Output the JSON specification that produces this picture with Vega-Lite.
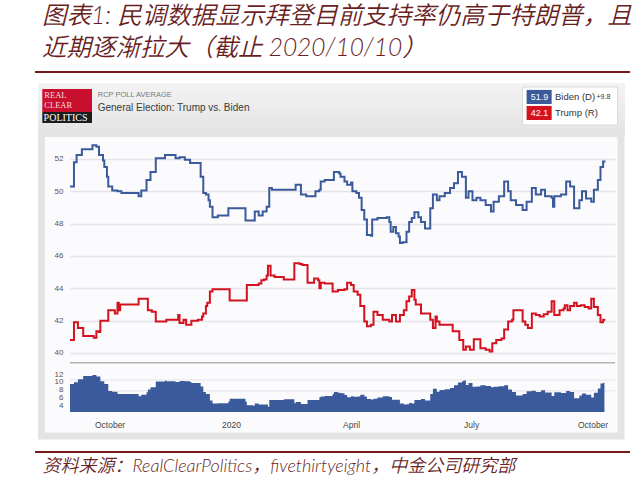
{
  "$schema": "https://vega.github.io/schema/vega-lite/v6.json",
  "width": 572,
  "height": 296,
  "autosize": "none",
  "padding": {"left": 45, "top": 137, "right": 23, "bottom": 48},
  "background": "white",
  "config": {
    "view": {"fill": "#fbfbfd", "stroke": null},
    "axis": {"labelFont": "Liberation Sans"}
  },
  "title": {
    "text": ["图表1: 民调数据显示拜登目前支持率仍高于特朗普，且", "近期逐渐拉大（截止 2020/10/10）"],
    "anchor": "start",
    "frame": "group",
    "orient": "top",
    "offset": 9,
    "dx": -3,
    "font": "Lato, Noto Sans CJK SC",
    "fontSize": 24.5,
    "fontStyle": "italic",
    "fontWeight": 350,
    "color": "#6a1f1f",
    "lineHeight": 32
  },
  "datasets": {
    "polls": [
      {"date": "2019-09-01", "candidate": "Biden", "share": 50.3},
      {"date": "2019-09-04", "candidate": "Biden", "share": 51.8},
      {"date": "2019-09-06", "candidate": "Biden", "share": 52.25},
      {"date": "2019-09-10", "candidate": "Biden", "share": 52.6},
      {"date": "2019-09-18", "candidate": "Biden", "share": 52.85},
      {"date": "2019-09-21", "candidate": "Biden", "share": 52.75},
      {"date": "2019-09-23", "candidate": "Biden", "share": 52.25},
      {"date": "2019-09-26", "candidate": "Biden", "share": 51.9},
      {"date": "2019-09-27", "candidate": "Biden", "share": 51.5},
      {"date": "2019-09-29", "candidate": "Biden", "share": 50.9},
      {"date": "2019-09-30", "candidate": "Biden", "share": 50.3},
      {"date": "2019-10-03", "candidate": "Biden", "share": 50.05},
      {"date": "2019-10-07", "candidate": "Biden", "share": 50.0},
      {"date": "2019-10-10", "candidate": "Biden", "share": 49.9},
      {"date": "2019-10-23", "candidate": "Biden", "share": 49.7},
      {"date": "2019-10-25", "candidate": "Biden", "share": 50.05},
      {"date": "2019-10-29", "candidate": "Biden", "share": 50.7},
      {"date": "2019-11-01", "candidate": "Biden", "share": 51.2},
      {"date": "2019-11-05", "candidate": "Biden", "share": 52.05},
      {"date": "2019-11-12", "candidate": "Biden", "share": 52.25},
      {"date": "2019-11-20", "candidate": "Biden", "share": 52.05},
      {"date": "2019-11-23", "candidate": "Biden", "share": 52.1},
      {"date": "2019-11-27", "candidate": "Biden", "share": 51.95},
      {"date": "2019-12-01", "candidate": "Biden", "share": 51.75},
      {"date": "2019-12-09", "candidate": "Biden", "share": 50.9},
      {"date": "2019-12-11", "candidate": "Biden", "share": 49.9},
      {"date": "2019-12-13", "candidate": "Biden", "share": 49.8},
      {"date": "2019-12-15", "candidate": "Biden", "share": 49.45},
      {"date": "2019-12-16", "candidate": "Biden", "share": 49.05},
      {"date": "2019-12-18", "candidate": "Biden", "share": 48.4},
      {"date": "2019-12-22", "candidate": "Biden", "share": 48.5},
      {"date": "2019-12-30", "candidate": "Biden", "share": 48.95},
      {"date": "2020-01-12", "candidate": "Biden", "share": 48.2},
      {"date": "2020-01-19", "candidate": "Biden", "share": 48.75},
      {"date": "2020-01-22", "candidate": "Biden", "share": 48.5},
      {"date": "2020-01-25", "candidate": "Biden", "share": 48.75},
      {"date": "2020-01-28", "candidate": "Biden", "share": 49.05},
      {"date": "2020-01-30", "candidate": "Biden", "share": 50.2},
      {"date": "2020-02-01", "candidate": "Biden", "share": 50.1},
      {"date": "2020-02-19", "candidate": "Biden", "share": 50.4},
      {"date": "2020-02-23", "candidate": "Biden", "share": 49.8},
      {"date": "2020-02-27", "candidate": "Biden", "share": 49.7},
      {"date": "2020-03-05", "candidate": "Biden", "share": 50.0},
      {"date": "2020-03-08", "candidate": "Biden", "share": 50.1},
      {"date": "2020-03-09", "candidate": "Biden", "share": 50.6},
      {"date": "2020-03-12", "candidate": "Biden", "share": 50.7},
      {"date": "2020-03-19", "candidate": "Biden", "share": 51.2},
      {"date": "2020-03-23", "candidate": "Biden", "share": 51.1},
      {"date": "2020-03-24", "candidate": "Biden", "share": 50.9},
      {"date": "2020-03-27", "candidate": "Biden", "share": 50.6},
      {"date": "2020-03-29", "candidate": "Biden", "share": 50.4},
      {"date": "2020-04-01", "candidate": "Biden", "share": 50.55},
      {"date": "2020-04-02", "candidate": "Biden", "share": 50.0},
      {"date": "2020-04-05", "candidate": "Biden", "share": 49.9},
      {"date": "2020-04-07", "candidate": "Biden", "share": 49.6},
      {"date": "2020-04-09", "candidate": "Biden", "share": 48.85},
      {"date": "2020-04-11", "candidate": "Biden", "share": 48.25},
      {"date": "2020-04-13", "candidate": "Biden", "share": 47.3},
      {"date": "2020-04-16", "candidate": "Biden", "share": 47.25},
      {"date": "2020-04-17", "candidate": "Biden", "share": 48.25},
      {"date": "2020-04-21", "candidate": "Biden", "share": 48.35},
      {"date": "2020-04-28", "candidate": "Biden", "share": 48.4},
      {"date": "2020-04-30", "candidate": "Biden", "share": 48.1},
      {"date": "2020-05-01", "candidate": "Biden", "share": 47.5},
      {"date": "2020-05-03", "candidate": "Biden", "share": 47.8},
      {"date": "2020-05-05", "candidate": "Biden", "share": 47.4},
      {"date": "2020-05-07", "candidate": "Biden", "share": 47.2},
      {"date": "2020-05-08", "candidate": "Biden", "share": 46.8},
      {"date": "2020-05-10", "candidate": "Biden", "share": 46.85},
      {"date": "2020-05-13", "candidate": "Biden", "share": 47.5},
      {"date": "2020-05-15", "candidate": "Biden", "share": 48.1},
      {"date": "2020-05-17", "candidate": "Biden", "share": 48.35},
      {"date": "2020-05-19", "candidate": "Biden", "share": 48.7},
      {"date": "2020-05-22", "candidate": "Biden", "share": 48.4},
      {"date": "2020-05-24", "candidate": "Biden", "share": 48.1},
      {"date": "2020-05-27", "candidate": "Biden", "share": 47.7},
      {"date": "2020-05-31", "candidate": "Biden", "share": 48.95},
      {"date": "2020-06-02", "candidate": "Biden", "share": 49.8},
      {"date": "2020-06-05", "candidate": "Biden", "share": 49.45},
      {"date": "2020-06-07", "candidate": "Biden", "share": 49.7},
      {"date": "2020-06-11", "candidate": "Biden", "share": 49.9},
      {"date": "2020-06-15", "candidate": "Biden", "share": 50.2},
      {"date": "2020-06-18", "candidate": "Biden", "share": 50.5},
      {"date": "2020-06-21", "candidate": "Biden", "share": 51.2},
      {"date": "2020-06-24", "candidate": "Biden", "share": 50.9},
      {"date": "2020-06-27", "candidate": "Biden", "share": 49.6},
      {"date": "2020-06-29", "candidate": "Biden", "share": 50.0},
      {"date": "2020-07-02", "candidate": "Biden", "share": 49.45},
      {"date": "2020-07-05", "candidate": "Biden", "share": 49.6},
      {"date": "2020-07-08", "candidate": "Biden", "share": 49.45},
      {"date": "2020-07-12", "candidate": "Biden", "share": 49.15},
      {"date": "2020-07-16", "candidate": "Biden", "share": 48.75},
      {"date": "2020-07-18", "candidate": "Biden", "share": 49.35},
      {"date": "2020-07-22", "candidate": "Biden", "share": 49.7},
      {"date": "2020-07-26", "candidate": "Biden", "share": 50.6},
      {"date": "2020-07-29", "candidate": "Biden", "share": 50.0},
      {"date": "2020-07-31", "candidate": "Biden", "share": 49.45},
      {"date": "2020-08-04", "candidate": "Biden", "share": 49.15},
      {"date": "2020-08-09", "candidate": "Biden", "share": 48.85},
      {"date": "2020-08-12", "candidate": "Biden", "share": 49.35},
      {"date": "2020-08-16", "candidate": "Biden", "share": 50.2},
      {"date": "2020-08-19", "candidate": "Biden", "share": 49.8},
      {"date": "2020-08-23", "candidate": "Biden", "share": 50.1},
      {"date": "2020-08-26", "candidate": "Biden", "share": 49.7},
      {"date": "2020-08-31", "candidate": "Biden", "share": 49.6},
      {"date": "2020-09-01", "candidate": "Biden", "share": 49.05},
      {"date": "2020-09-02", "candidate": "Biden", "share": 49.7},
      {"date": "2020-09-07", "candidate": "Biden", "share": 49.8},
      {"date": "2020-09-11", "candidate": "Biden", "share": 50.6},
      {"date": "2020-09-14", "candidate": "Biden", "share": 50.3},
      {"date": "2020-09-17", "candidate": "Biden", "share": 48.95},
      {"date": "2020-09-21", "candidate": "Biden", "share": 49.45},
      {"date": "2020-09-23", "candidate": "Biden", "share": 50.0},
      {"date": "2020-09-26", "candidate": "Biden", "share": 49.55},
      {"date": "2020-09-30", "candidate": "Biden", "share": 49.35},
      {"date": "2020-10-02", "candidate": "Biden", "share": 50.1},
      {"date": "2020-10-05", "candidate": "Biden", "share": 50.7},
      {"date": "2020-10-07", "candidate": "Biden", "share": 51.5},
      {"date": "2020-10-09", "candidate": "Biden", "share": 51.85},
      {"date": "2020-10-10", "candidate": "Biden", "share": 51.9},
      {"date": "2019-09-01", "candidate": "Trump", "share": 40.8},
      {"date": "2019-09-04", "candidate": "Trump", "share": 41.9},
      {"date": "2019-09-07", "candidate": "Trump", "share": 41.55},
      {"date": "2019-09-11", "candidate": "Trump", "share": 41.05},
      {"date": "2019-09-19", "candidate": "Trump", "share": 40.95},
      {"date": "2019-09-21", "candidate": "Trump", "share": 41.35},
      {"date": "2019-09-23", "candidate": "Trump", "share": 41.3},
      {"date": "2019-09-24", "candidate": "Trump", "share": 42.0},
      {"date": "2019-09-30", "candidate": "Trump", "share": 42.65},
      {"date": "2019-10-05", "candidate": "Trump", "share": 42.45},
      {"date": "2019-10-07", "candidate": "Trump", "share": 43.1},
      {"date": "2019-10-08", "candidate": "Trump", "share": 42.65},
      {"date": "2019-10-09", "candidate": "Trump", "share": 43.0},
      {"date": "2019-10-23", "candidate": "Trump", "share": 43.35},
      {"date": "2019-10-30", "candidate": "Trump", "share": 42.65},
      {"date": "2019-11-02", "candidate": "Trump", "share": 42.55},
      {"date": "2019-11-05", "candidate": "Trump", "share": 41.95},
      {"date": "2019-11-13", "candidate": "Trump", "share": 42.05},
      {"date": "2019-11-22", "candidate": "Trump", "share": 42.35},
      {"date": "2019-11-23", "candidate": "Trump", "share": 41.85},
      {"date": "2019-11-26", "candidate": "Trump", "share": 42.05},
      {"date": "2019-11-28", "candidate": "Trump", "share": 41.75},
      {"date": "2019-12-02", "candidate": "Trump", "share": 42.0},
      {"date": "2019-12-07", "candidate": "Trump", "share": 42.05},
      {"date": "2019-12-10", "candidate": "Trump", "share": 42.25},
      {"date": "2019-12-11", "candidate": "Trump", "share": 42.45},
      {"date": "2019-12-13", "candidate": "Trump", "share": 42.9},
      {"date": "2019-12-14", "candidate": "Trump", "share": 43.1},
      {"date": "2019-12-16", "candidate": "Trump", "share": 43.8},
      {"date": "2019-12-18", "candidate": "Trump", "share": 43.95},
      {"date": "2019-12-31", "candidate": "Trump", "share": 43.25},
      {"date": "2020-01-13", "candidate": "Trump", "share": 44.2},
      {"date": "2020-01-22", "candidate": "Trump", "share": 44.3},
      {"date": "2020-01-24", "candidate": "Trump", "share": 44.5},
      {"date": "2020-01-26", "candidate": "Trump", "share": 44.55},
      {"date": "2020-01-28", "candidate": "Trump", "share": 44.8},
      {"date": "2020-01-29", "candidate": "Trump", "share": 45.4},
      {"date": "2020-01-31", "candidate": "Trump", "share": 44.8},
      {"date": "2020-02-03", "candidate": "Trump", "share": 44.7},
      {"date": "2020-02-10", "candidate": "Trump", "share": 44.55},
      {"date": "2020-02-18", "candidate": "Trump", "share": 45.55},
      {"date": "2020-02-22", "candidate": "Trump", "share": 45.5},
      {"date": "2020-02-24", "candidate": "Trump", "share": 45.45},
      {"date": "2020-02-28", "candidate": "Trump", "share": 44.35},
      {"date": "2020-03-04", "candidate": "Trump", "share": 44.6},
      {"date": "2020-03-07", "candidate": "Trump", "share": 44.5},
      {"date": "2020-03-08", "candidate": "Trump", "share": 44.0},
      {"date": "2020-03-09", "candidate": "Trump", "share": 44.35},
      {"date": "2020-03-12", "candidate": "Trump", "share": 44.3},
      {"date": "2020-03-18", "candidate": "Trump", "share": 43.8},
      {"date": "2020-03-22", "candidate": "Trump", "share": 43.9},
      {"date": "2020-03-27", "candidate": "Trump", "share": 43.95},
      {"date": "2020-03-29", "candidate": "Trump", "share": 44.35},
      {"date": "2020-04-01", "candidate": "Trump", "share": 44.2},
      {"date": "2020-04-03", "candidate": "Trump", "share": 43.8},
      {"date": "2020-04-06", "candidate": "Trump", "share": 43.6},
      {"date": "2020-04-08", "candidate": "Trump", "share": 42.9},
      {"date": "2020-04-11", "candidate": "Trump", "share": 41.95},
      {"date": "2020-04-13", "candidate": "Trump", "share": 41.65},
      {"date": "2020-04-16", "candidate": "Trump", "share": 41.75},
      {"date": "2020-04-18", "candidate": "Trump", "share": 42.55},
      {"date": "2020-04-21", "candidate": "Trump", "share": 42.35},
      {"date": "2020-04-25", "candidate": "Trump", "share": 42.05},
      {"date": "2020-04-30", "candidate": "Trump", "share": 41.95},
      {"date": "2020-05-02", "candidate": "Trump", "share": 42.35},
      {"date": "2020-05-05", "candidate": "Trump", "share": 41.95},
      {"date": "2020-05-08", "candidate": "Trump", "share": 42.35},
      {"date": "2020-05-11", "candidate": "Trump", "share": 42.65},
      {"date": "2020-05-13", "candidate": "Trump", "share": 43.2},
      {"date": "2020-05-15", "candidate": "Trump", "share": 43.5},
      {"date": "2020-05-17", "candidate": "Trump", "share": 43.9},
      {"date": "2020-05-19", "candidate": "Trump", "share": 43.3},
      {"date": "2020-05-20", "candidate": "Trump", "share": 43.0},
      {"date": "2020-05-24", "candidate": "Trump", "share": 42.45},
      {"date": "2020-05-31", "candidate": "Trump", "share": 42.05},
      {"date": "2020-06-02", "candidate": "Trump", "share": 41.55},
      {"date": "2020-06-04", "candidate": "Trump", "share": 42.25},
      {"date": "2020-06-05", "candidate": "Trump", "share": 41.95},
      {"date": "2020-06-07", "candidate": "Trump", "share": 41.75},
      {"date": "2020-06-17", "candidate": "Trump", "share": 41.35},
      {"date": "2020-06-22", "candidate": "Trump", "share": 40.8},
      {"date": "2020-06-25", "candidate": "Trump", "share": 40.2},
      {"date": "2020-06-27", "candidate": "Trump", "share": 40.4},
      {"date": "2020-06-30", "candidate": "Trump", "share": 40.2},
      {"date": "2020-07-03", "candidate": "Trump", "share": 40.85},
      {"date": "2020-07-08", "candidate": "Trump", "share": 40.3},
      {"date": "2020-07-12", "candidate": "Trump", "share": 40.2},
      {"date": "2020-07-15", "candidate": "Trump", "share": 40.1},
      {"date": "2020-07-17", "candidate": "Trump", "share": 40.6},
      {"date": "2020-07-20", "candidate": "Trump", "share": 40.8},
      {"date": "2020-07-24", "candidate": "Trump", "share": 40.9},
      {"date": "2020-07-26", "candidate": "Trump", "share": 41.45},
      {"date": "2020-07-29", "candidate": "Trump", "share": 41.95},
      {"date": "2020-08-01", "candidate": "Trump", "share": 42.05},
      {"date": "2020-08-02", "candidate": "Trump", "share": 42.65},
      {"date": "2020-08-09", "candidate": "Trump", "share": 41.95},
      {"date": "2020-08-11", "candidate": "Trump", "share": 41.75},
      {"date": "2020-08-13", "candidate": "Trump", "share": 41.55},
      {"date": "2020-08-16", "candidate": "Trump", "share": 42.45},
      {"date": "2020-08-19", "candidate": "Trump", "share": 42.35},
      {"date": "2020-08-22", "candidate": "Trump", "share": 42.25},
      {"date": "2020-08-25", "candidate": "Trump", "share": 42.4},
      {"date": "2020-08-28", "candidate": "Trump", "share": 42.55},
      {"date": "2020-08-31", "candidate": "Trump", "share": 43.2},
      {"date": "2020-09-02", "candidate": "Trump", "share": 42.35},
      {"date": "2020-09-06", "candidate": "Trump", "share": 42.65},
      {"date": "2020-09-09", "candidate": "Trump", "share": 42.75},
      {"date": "2020-09-10", "candidate": "Trump", "share": 42.95},
      {"date": "2020-09-12", "candidate": "Trump", "share": 42.65},
      {"date": "2020-09-14", "candidate": "Trump", "share": 42.9},
      {"date": "2020-09-17", "candidate": "Trump", "share": 43.1},
      {"date": "2020-09-19", "candidate": "Trump", "share": 42.9},
      {"date": "2020-09-22", "candidate": "Trump", "share": 42.95},
      {"date": "2020-09-25", "candidate": "Trump", "share": 42.85},
      {"date": "2020-09-28", "candidate": "Trump", "share": 42.75},
      {"date": "2020-09-30", "candidate": "Trump", "share": 43.35},
      {"date": "2020-10-02", "candidate": "Trump", "share": 42.85},
      {"date": "2020-10-05", "candidate": "Trump", "share": 42.35},
      {"date": "2020-10-07", "candidate": "Trump", "share": 41.9},
      {"date": "2020-10-09", "candidate": "Trump", "share": 42.05},
      {"date": "2020-10-10", "candidate": "Trump", "share": 42.1}
    ],
    "spread": [
      {"date": "2019-09-01", "spread": 9.5},
      {"date": "2019-09-04", "spread": 9.9},
      {"date": "2019-09-07", "spread": 10.7},
      {"date": "2019-09-11", "spread": 11.55},
      {"date": "2019-09-18", "spread": 11.8},
      {"date": "2019-09-21", "spread": 11.4},
      {"date": "2019-09-24", "spread": 10.2},
      {"date": "2019-09-27", "spread": 9.45},
      {"date": "2019-09-30", "spread": 7.65},
      {"date": "2019-10-03", "spread": 7.5},
      {"date": "2019-10-07", "spread": 6.9},
      {"date": "2019-10-23", "spread": 6.35},
      {"date": "2019-10-25", "spread": 6.7},
      {"date": "2019-10-29", "spread": 7.35},
      {"date": "2019-10-30", "spread": 8.05},
      {"date": "2019-11-01", "spread": 8.65},
      {"date": "2019-11-05", "spread": 10.1},
      {"date": "2019-11-12", "spread": 10.35},
      {"date": "2019-11-13", "spread": 10.2},
      {"date": "2019-11-20", "spread": 10.0},
      {"date": "2019-11-23", "spread": 10.25},
      {"date": "2019-11-27", "spread": 10.2},
      {"date": "2019-12-01", "spread": 10.0},
      {"date": "2019-12-02", "spread": 9.75},
      {"date": "2019-12-07", "spread": 9.7},
      {"date": "2019-12-09", "spread": 8.8},
      {"date": "2019-12-11", "spread": 7.45},
      {"date": "2019-12-13", "spread": 6.9},
      {"date": "2019-12-16", "spread": 5.25},
      {"date": "2019-12-18", "spread": 4.45},
      {"date": "2019-12-22", "spread": 4.55},
      {"date": "2019-12-30", "spread": 5.0},
      {"date": "2019-12-31", "spread": 5.7},
      {"date": "2020-01-12", "spread": 4.95},
      {"date": "2020-01-13", "spread": 4.0},
      {"date": "2020-01-18", "spread": 3.9},
      {"date": "2020-01-19", "spread": 4.45},
      {"date": "2020-01-22", "spread": 4.2},
      {"date": "2020-01-28", "spread": 4.25},
      {"date": "2020-01-29", "spread": 3.65},
      {"date": "2020-01-30", "spread": 5.4},
      {"date": "2020-02-10", "spread": 5.55},
      {"date": "2020-02-18", "spread": 4.55},
      {"date": "2020-02-19", "spread": 4.85},
      {"date": "2020-02-23", "spread": 4.35},
      {"date": "2020-02-28", "spread": 5.35},
      {"date": "2020-03-04", "spread": 5.4},
      {"date": "2020-03-08", "spread": 6.1},
      {"date": "2020-03-09", "spread": 6.25},
      {"date": "2020-03-12", "spread": 6.4},
      {"date": "2020-03-18", "spread": 6.9},
      {"date": "2020-03-19", "spread": 7.4},
      {"date": "2020-03-22", "spread": 7.2},
      {"date": "2020-03-24", "spread": 7.1},
      {"date": "2020-03-27", "spread": 6.65},
      {"date": "2020-03-29", "spread": 6.05},
      {"date": "2020-04-01", "spread": 6.35},
      {"date": "2020-04-03", "spread": 6.2},
      {"date": "2020-04-06", "spread": 6.3},
      {"date": "2020-04-08", "spread": 6.7},
      {"date": "2020-04-11", "spread": 6.3},
      {"date": "2020-04-13", "spread": 5.65},
      {"date": "2020-04-16", "spread": 5.5},
      {"date": "2020-04-18", "spread": 5.7},
      {"date": "2020-04-21", "spread": 6.0},
      {"date": "2020-04-25", "spread": 6.35},
      {"date": "2020-04-30", "spread": 6.15},
      {"date": "2020-05-02", "spread": 5.45},
      {"date": "2020-05-08", "spread": 4.45},
      {"date": "2020-05-11", "spread": 4.2},
      {"date": "2020-05-13", "spread": 4.3},
      {"date": "2020-05-15", "spread": 4.6},
      {"date": "2020-05-17", "spread": 4.45},
      {"date": "2020-05-19", "spread": 5.4},
      {"date": "2020-05-24", "spread": 5.65},
      {"date": "2020-05-27", "spread": 5.25},
      {"date": "2020-05-31", "spread": 6.9},
      {"date": "2020-06-02", "spread": 8.25},
      {"date": "2020-06-05", "spread": 7.5},
      {"date": "2020-06-07", "spread": 7.95},
      {"date": "2020-06-11", "spread": 8.15},
      {"date": "2020-06-15", "spread": 8.45},
      {"date": "2020-06-18", "spread": 9.15},
      {"date": "2020-06-21", "spread": 9.85},
      {"date": "2020-06-24", "spread": 10.1},
      {"date": "2020-06-25", "spread": 10.4},
      {"date": "2020-06-27", "spread": 9.2},
      {"date": "2020-06-29", "spread": 9.7},
      {"date": "2020-07-02", "spread": 8.75},
      {"date": "2020-07-05", "spread": 8.85},
      {"date": "2020-07-08", "spread": 9.15},
      {"date": "2020-07-12", "spread": 8.95},
      {"date": "2020-07-16", "spread": 8.65},
      {"date": "2020-07-18", "spread": 8.75},
      {"date": "2020-07-22", "spread": 8.9},
      {"date": "2020-07-26", "spread": 9.15},
      {"date": "2020-07-29", "spread": 8.05},
      {"date": "2020-08-01", "spread": 7.4},
      {"date": "2020-08-04", "spread": 6.5},
      {"date": "2020-08-09", "spread": 6.9},
      {"date": "2020-08-12", "spread": 7.6},
      {"date": "2020-08-16", "spread": 7.75},
      {"date": "2020-08-19", "spread": 7.45},
      {"date": "2020-08-23", "spread": 7.85},
      {"date": "2020-08-26", "spread": 7.3},
      {"date": "2020-08-31", "spread": 6.4},
      {"date": "2020-09-02", "spread": 7.35},
      {"date": "2020-09-07", "spread": 7.15},
      {"date": "2020-09-11", "spread": 7.65},
      {"date": "2020-09-14", "spread": 7.4},
      {"date": "2020-09-17", "spread": 5.85},
      {"date": "2020-09-21", "spread": 6.55},
      {"date": "2020-09-23", "spread": 7.05},
      {"date": "2020-09-26", "spread": 6.7},
      {"date": "2020-09-30", "spread": 6.0},
      {"date": "2020-10-02", "spread": 7.25},
      {"date": "2020-10-05", "spread": 8.35},
      {"date": "2020-10-07", "spread": 9.6},
      {"date": "2020-10-09", "spread": 9.8},
      {"date": "2020-10-10", "spread": 9.8}
    ]
  },
  "layer": [
    {
      "layer": [
        {
          "data": {"name": "polls"},
          "mark": {"type": "line", "interpolate": "step-after", "strokeWidth": 2},
          "encoding": {
            "x": {
              "field": "date",
              "type": "temporal",
              "scale": {
                "domain": [{"year": 2019, "month": 9, "date": 1}, {"year": 2020, "month": 10, "date": 18}],
                "range": [25, 570],
                "nice": false
              },
              "axis": {
                "orient": "bottom",
                "offset": -21,
                "values": [
                  {"year": 2019, "month": 10, "date": 1},
                  {"year": 2020, "month": 1, "date": 1},
                  {"year": 2020, "month": 4, "date": 1},
                  {"year": 2020, "month": 7, "date": 1},
                  {"year": 2020, "month": 10, "date": 1}
                ],
                "labelExpr": "month(datum.value) == 0 ? timeFormat(datum.value, '%Y') : timeFormat(datum.value, '%B')",
                "labelFlush": false,
                "labelOverlap": false,
                "domain": false,
                "ticks": false,
                "tickSize": 0,
                "grid": false,
                "labelPadding": 8,
                "labelFontSize": 8.5,
                "labelColor": "#444444",
                "title": "资料来源：RealClearPolitics，fivethirtyeight，中金公司研究部",
                "titleX": -3,
                "titleY": 54,
                "titleAlign": "left",
                "titleAnchor": "start",
                "titleBaseline": "middle",
                "titleFont": "Lato, Noto Sans CJK SC",
                "titleFontSize": 18,
                "titleFontStyle": "italic",
                "titleFontWeight": 350,
                "titleColor": "#6a1f1f"
              }
            },
            "y": {
              "field": "share",
              "type": "quantitative",
              "scale": {"domain": [39.4, 53], "range": [225.7, 5.8], "nice": false, "zero": false},
              "axis": {
                "orient": "left",
                "offset": -25,
                "values": [40, 42, 44, 46, 48, 50, 52],
                "grid": true,
                "gridColor": "#e4e4ea",
                "gridWidth": 1.5,
                "domain": false,
                "ticks": false,
                "tickSize": 0,
                "labelPadding": 7,
                "labelFontSize": 8,
                "labelColor": "#555555",
                "title": null
              }
            },
            "color": {
              "field": "candidate",
              "type": "nominal",
              "scale": {"domain": ["Biden", "Trump"], "range": ["#3a5a9b", "#d4121f"]},
              "legend": null
            }
          }
        },
        {
          "data": {"values": [{}]},
          "mark": {"type": "rect", "fill": {"gradient": "linear", "x1": 0, "y1": 0, "x2": 0, "y2": 1, "stops": [{"offset": 0, "color": "#f3f3f3"}, {"offset": 1, "color": "#e3e3e3"}]}},
          "encoding": {
            "x": {"datum": {"year": 2019, "month": 8, "date": 7, "hours": 18}, "type": "temporal"},
            "x2": {"datum": {"year": 2020, "month": 10, "date": 25, "hours": 14}},
            "y": {"datum": 56.7, "type": "quantitative"},
            "y2": {"datum": 53.36}
          }
        },
        {
          "data": {"values": [{}]},
          "mark": {"type": "rect", "filled": false, "stroke": "#e4e4e4", "strokeWidth": 7},
          "encoding": {
            "x": {"datum": {"year": 2019, "month": 8, "date": 10, "hours": 10}, "type": "temporal"},
            "x2": {"datum": {"year": 2020, "month": 10, "date": 22, "hours": 12}},
            "y": {"datum": 53.58, "type": "quantitative"},
            "y2": {"datum": 34.87}
          }
        },
        {
          "data": {"values": [{}]},
          "mark": {"type": "rect", "fill": "#c8102e"},
          "encoding": {
            "x": {"datum": {"year": 2019, "month": 8, "date": 11}, "type": "temporal"},
            "x2": {"datum": {"year": 2019, "month": 9, "date": 17, "hours": 16}},
            "y": {"datum": 56.33, "type": "quantitative"},
            "y2": {"datum": 54.91}
          }
        },
        {
          "data": {"values": [{}]},
          "mark": {"type": "rect", "fill": "#1c1c1c"},
          "encoding": {
            "x": {"datum": {"year": 2019, "month": 8, "date": 11}, "type": "temporal"},
            "x2": {"datum": {"year": 2019, "month": 9, "date": 17, "hours": 16}},
            "y": {"datum": 54.91, "type": "quantitative"},
            "y2": {"datum": 54.23}
          }
        },
        {
          "data": {"values": [{}]},
          "mark": {"type": "text", "text": "REAL", "align": "left", "baseline": "middle", "font": "Liberation Serif", "fontSize": 8.5, "fill": "#f8dcdc"},
          "encoding": {
            "x": {"datum": {"year": 2019, "month": 8, "date": 12, "hours": 12}, "type": "temporal"},
            "y": {"datum": 55.93, "type": "quantitative"}
          }
        },
        {
          "data": {"values": [{}]},
          "mark": {"type": "text", "text": "CLEAR", "align": "left", "baseline": "middle", "font": "Liberation Serif", "fontSize": 8.5, "fill": "#f8dcdc"},
          "encoding": {
            "x": {"datum": {"year": 2019, "month": 8, "date": 12, "hours": 12}, "type": "temporal"},
            "y": {"datum": 55.33, "type": "quantitative"}
          }
        },
        {
          "data": {"values": [{}]},
          "mark": {"type": "text", "text": "POLITICS", "align": "left", "baseline": "middle", "font": "Liberation Serif", "fontSize": 10, "fill": "#ffffff"},
          "encoding": {
            "x": {"datum": {"year": 2019, "month": 8, "date": 12}, "type": "temporal"},
            "y": {"datum": 54.56, "type": "quantitative"}
          }
        },
        {
          "data": {"values": [{}]},
          "mark": {"type": "text", "text": "RCP POLL AVERAGE", "align": "left", "baseline": "middle", "font": "Liberation Sans", "fontSize": 7.5, "fill": "#7a7a7a"},
          "encoding": {
            "x": {"datum": {"year": 2019, "month": 9, "date": 22}, "type": "temporal"},
            "y": {"datum": 55.96, "type": "quantitative"}
          }
        },
        {
          "data": {"values": [{}]},
          "mark": {"type": "text", "text": "General Election: Trump vs. Biden", "align": "left", "baseline": "middle", "font": "Liberation Sans", "fontSize": 10, "fill": "#3a3a3a"},
          "encoding": {
            "x": {"datum": {"year": 2019, "month": 9, "date": 22}, "type": "temporal"},
            "y": {"datum": 55.15, "type": "quantitative"}
          }
        },
        {
          "data": {"values": [{}]},
          "mark": {"type": "rect", "fill": "#ffffff", "stroke": "#d9d9d9", "strokeWidth": 1},
          "encoding": {
            "x": {"datum": {"year": 2020, "month": 8, "date": 9}, "type": "temporal"},
            "x2": {"datum": {"year": 2020, "month": 10, "date": 20}},
            "y": {"datum": 56.45, "type": "quantitative"},
            "y2": {"datum": 54.1}
          }
        },
        {
          "data": {"values": [{}]},
          "mark": {"type": "rect", "fill": "#3a5a9b"},
          "encoding": {
            "x": {"datum": {"year": 2020, "month": 8, "date": 12}, "type": "temporal"},
            "x2": {"datum": {"year": 2020, "month": 8, "date": 31}},
            "y": {"datum": 56.27, "type": "quantitative"},
            "y2": {"datum": 55.4}
          }
        },
        {
          "data": {"values": [{}]},
          "mark": {"type": "rect", "fill": "#d4121f"},
          "encoding": {
            "x": {"datum": {"year": 2020, "month": 8, "date": 12}, "type": "temporal"},
            "x2": {"datum": {"year": 2020, "month": 8, "date": 31}},
            "y": {"datum": 55.28, "type": "quantitative"},
            "y2": {"datum": 54.41}
          }
        },
        {
          "data": {"values": [{}]},
          "mark": {"type": "text", "text": "51.9", "align": "center", "baseline": "middle", "font": "Liberation Sans", "fontSize": 9, "fill": "#ffffff"},
          "encoding": {
            "x": {"datum": {"year": 2020, "month": 8, "date": 21, "hours": 18}, "type": "temporal"},
            "y": {"datum": 55.83, "type": "quantitative"}
          }
        },
        {
          "data": {"values": [{}]},
          "mark": {"type": "text", "text": "42.1", "align": "center", "baseline": "middle", "font": "Liberation Sans", "fontSize": 9, "fill": "#ffffff"},
          "encoding": {
            "x": {"datum": {"year": 2020, "month": 8, "date": 21, "hours": 18}, "type": "temporal"},
            "y": {"datum": 54.84, "type": "quantitative"}
          }
        },
        {
          "data": {"values": [{}]},
          "mark": {"type": "text", "text": "Biden (D)", "align": "left", "baseline": "middle", "font": "Liberation Sans", "fontSize": 9.5, "fill": "#333333"},
          "encoding": {
            "x": {"datum": {"year": 2020, "month": 9, "date": 2, "hours": 12}, "type": "temporal"},
            "y": {"datum": 55.83, "type": "quantitative"}
          }
        },
        {
          "data": {"values": [{}]},
          "mark": {"type": "text", "text": "+9.8", "align": "left", "baseline": "middle", "font": "Liberation Sans", "fontSize": 7, "fill": "#333333"},
          "encoding": {
            "x": {"datum": {"year": 2020, "month": 10, "date": 4}, "type": "temporal"},
            "y": {"datum": 55.83, "type": "quantitative"}
          }
        },
        {
          "data": {"values": [{}]},
          "mark": {"type": "text", "text": "Trump (R)", "align": "left", "baseline": "middle", "font": "Liberation Sans", "fontSize": 9.5, "fill": "#333333"},
          "encoding": {
            "x": {"datum": {"year": 2020, "month": 9, "date": 2, "hours": 12}, "type": "temporal"},
            "y": {"datum": 54.84, "type": "quantitative"}
          }
        },
        {
          "data": {"values": [{}]},
          "mark": {"type": "rule", "color": "#7b1a1a", "strokeWidth": 2},
          "encoding": {
            "x": {"datum": {"year": 2019, "month": 8, "date": 5, "hours": 12}, "type": "temporal"},
            "x2": {"datum": {"year": 2020, "month": 10, "date": 29, "hours": 10}},
            "y": {"datum": 57.38, "type": "quantitative"}
          }
        },
        {
          "data": {"values": [{}]},
          "mark": {"type": "rule", "color": "#7b1a1a", "strokeWidth": 2},
          "encoding": {
            "x": {"datum": {"year": 2019, "month": 8, "date": 5, "hours": 12}, "type": "temporal"},
            "x2": {"datum": {"year": 2020, "month": 10, "date": 29, "hours": 10}},
            "y": {"datum": 33.88, "type": "quantitative"}
          }
        },
        {
          "data": {"values": [{}]},
          "mark": {"type": "rule", "color": "#b3b3b3", "strokeWidth": 1.5},
          "encoding": {
            "x": {"datum": {"year": 2019, "month": 9, "date": 1}, "type": "temporal"},
            "x2": {"datum": {"year": 2020, "month": 10, "date": 18}},
            "y": {"datum": 39.4, "type": "quantitative"}
          }
        }
      ]
    },
    {
      "layer": [
        {
          "data": {"values": [{}]},
          "mark": {"type": "rule", "color": "#e4e4ea", "strokeWidth": 1},
          "encoding": {
            "x": {"datum": {"year": 2019, "month": 9, "date": 1}, "type": "temporal"},
            "x2": {"datum": {"year": 2020, "month": 10, "date": 18}},
            "y": {"datum": 10.5, "type": "quantitative"}
          }
        },
        {
          "data": {"values": [{}]},
          "mark": {"type": "rule", "color": "#e4e4ea", "strokeWidth": 1},
          "encoding": {
            "x": {"datum": {"year": 2019, "month": 9, "date": 1}, "type": "temporal"},
            "x2": {"datum": {"year": 2020, "month": 10, "date": 18}},
            "y": {"datum": 7.7, "type": "quantitative"}
          }
        },
        {
          "data": {"name": "spread"},
          "mark": {"type": "area", "interpolate": "step-after", "color": "#3a5a9b", "opacity": 1},
          "encoding": {
            "x": {"field": "date", "type": "temporal"},
            "y": {
              "field": "spread",
              "type": "quantitative",
              "scale": {"domain": [2.3, 14.85], "range": [275, 226], "nice": false, "zero": false},
              "axis": {
                "orient": "left",
                "offset": -25,
                "values": [4, 6, 8, 10, 12],
                "grid": false,
                "domain": false,
                "ticks": false,
                "tickSize": 0,
                "labelOverlap": false,
                "labelPadding": 7,
                "labelFontSize": 8,
                "labelColor": "#555555",
                "title": null
              }
            },
            "y2": {"datum": 2.3}
          }
        }
      ]
    }
  ],
  "resolve": {"scale": {"y": "independent"}}
}
